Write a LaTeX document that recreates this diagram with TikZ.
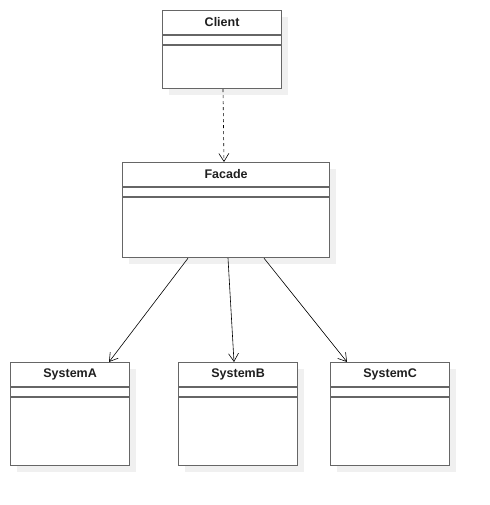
\documentclass[tikz,border=0pt]{standalone}
\usepackage{fontspec}
\setmainfont{Liberation Sans}
\usepackage{tikz}
\usetikzlibrary{calc,arrows.meta}

\begin{document}
\begin{tikzpicture}[x=1pt,y=-1pt]
\tikzstyle{classbox}=[rectangle,draw=black!60,line width=1.2pt,fill=white,inner sep=0pt]
\tikzstyle{classline}=[draw=black!60,line width=1.2pt]
\tikzstyle{classname}=[font=\bfseries\fontsize{12.5}{15}\selectfont,text=black!88,inner sep=0pt]
\tikzstyle{shadow}=[fill=black!6]
\tikzstyle{dep}=[black,line width=0.6pt,dash pattern=on 3pt off 3pt,-{Straight Barb[length=8pt,width=10pt]}]
\tikzstyle{assoc}=[black,line width=0.6pt,-{Straight Barb[length=8pt,width=10pt]}]

\useasboundingbox (0,0) rectangle (489,505);

\foreach \name/\x/\y/\w/\h/\txt in {client/162/10/119/78/Client,
                                  facade/122/162/207/95/Facade,
                                  sysA/10/362/119/103/SystemA,
                                  sysB/178/362/119/103/SystemB,
                                  sysC/330/362/119/103/SystemC} {
  \fill[shadow] (\x+7,\y+7) rectangle ++(\w,\h);
  \node[classbox,minimum width=\w pt,minimum height=\h pt,anchor=north west] (\name) at (\x,\y) {};
  \node[classname] (\name-title) at ([yshift=-12.5pt]\name.north) {\txt};
  \draw[classline] ([yshift=-25pt]\name.north west) -- ([yshift=-25pt]\name.north east)
                   ([yshift=-35pt]\name.north west) -- ([yshift=-35pt]\name.north east);
}

\draw[dep] ([xshift=61pt]client.south west) -- ([xshift=102pt]facade.north west);
\draw[assoc] ([xshift=66pt]facade.south west) -- ([xshift=99pt]sysA.north west);
\draw[assoc] ([xshift=106pt]facade.south west) -- ([xshift=56pt]sysB.north west);
\draw[assoc] ([xshift=142pt]facade.south west) -- ([xshift=17pt]sysC.north west);
\end{tikzpicture}
\end{document}
